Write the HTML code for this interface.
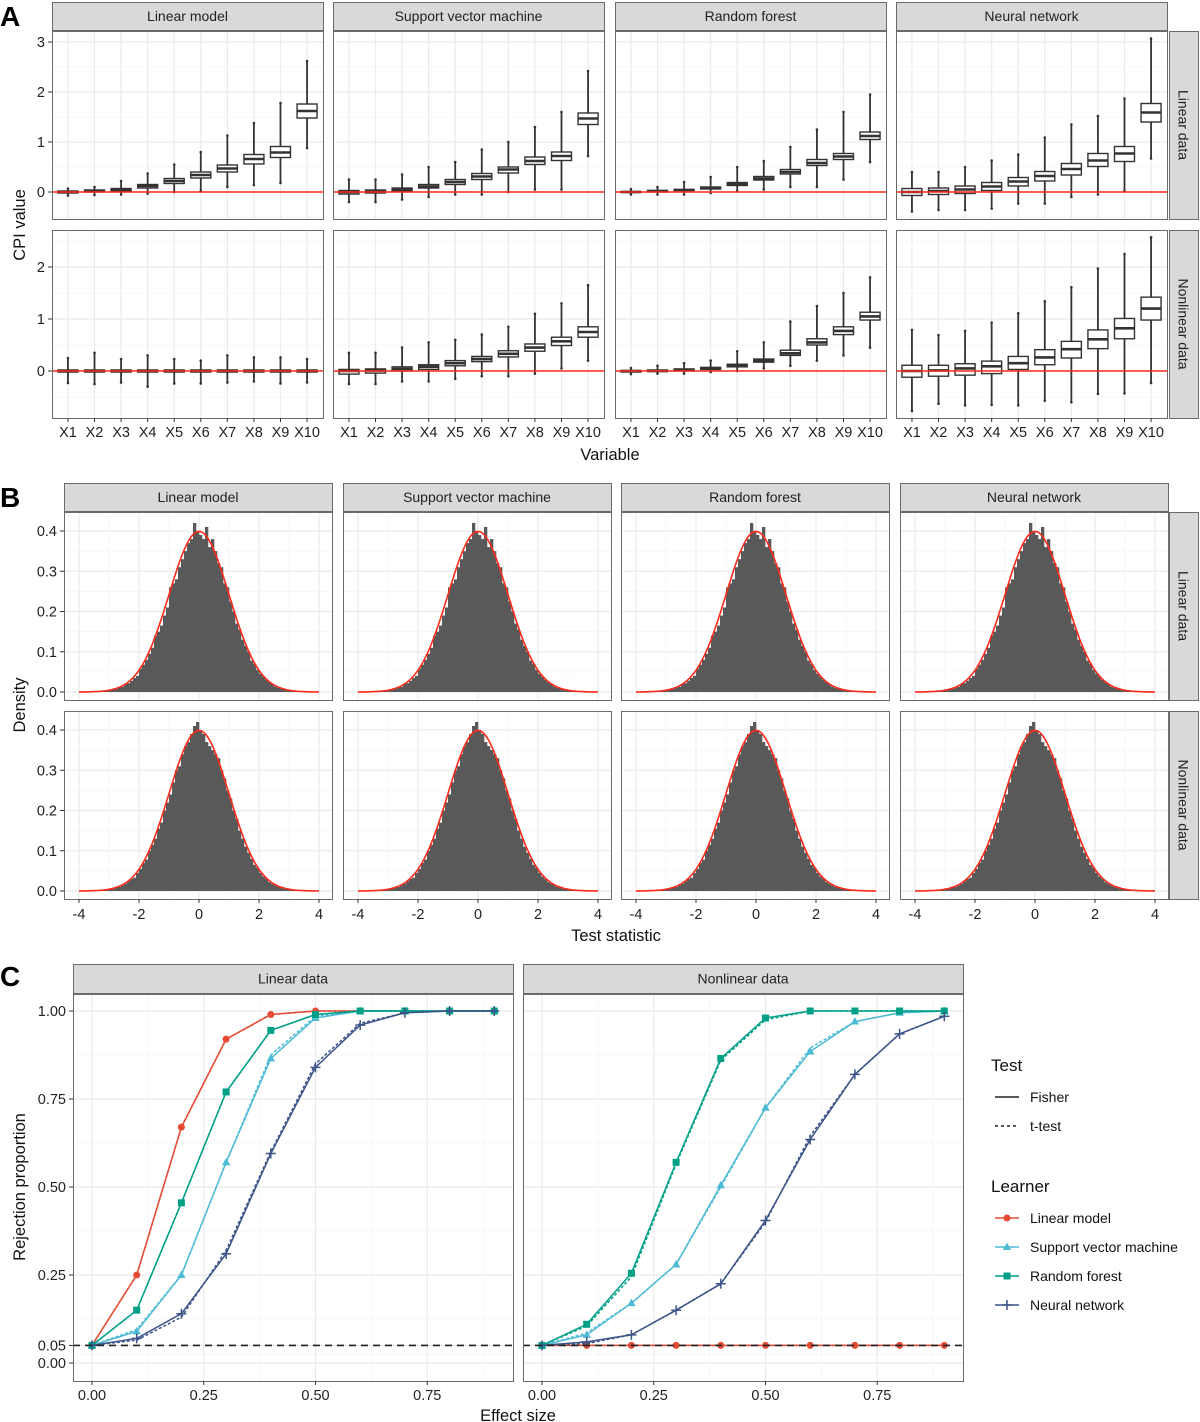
<!DOCTYPE html>
<html><head><meta charset="utf-8"><style>
html,body{margin:0;padding:0;background:#fff;}
svg{display:block;font-family:"Liberation Sans",Arial,sans-serif;}
</style></head><body>
<svg id="chart" width="1200" height="1422" viewBox="0 0 1200 1422" xmlns="http://www.w3.org/2000/svg">
<rect x="0" y="0" width="1200" height="1422" fill="#fff"/>
<text x="0" y="26" font-size="28" font-weight="bold">A</text>
<text x="0" y="507" font-size="28" font-weight="bold">B</text>
<text x="0" y="986" font-size="28" font-weight="bold">C</text>
<text transform="translate(25,225) rotate(-90)" text-anchor="middle" font-size="16.5" fill="#111">CPI value</text>
<text x="610" y="460" text-anchor="middle" font-size="16.5" fill="#111">Variable</text>
<text transform="translate(25,705) rotate(-90)" text-anchor="middle" font-size="16.5" fill="#111">Density</text>
<text x="616" y="941" text-anchor="middle" font-size="16.5" fill="#111">Test statistic</text>
<text transform="translate(25,1187) rotate(-90)" text-anchor="middle" font-size="16.5" fill="#111">Rejection proportion</text>
<text x="518" y="1421" text-anchor="middle" font-size="16.5" fill="#111">Effect size</text>
<g font-size="14" fill="#111">
<text x="991" y="1071" font-size="17">Test</text>
<line x1="995" y1="1097" x2="1019" y2="1097" stroke="#222" stroke-width="1.5"/>
<text x="1030" y="1102">Fisher</text>
<line x1="995" y1="1126" x2="1019" y2="1126" stroke="#222" stroke-width="1.5" stroke-dasharray="3,3"/>
<text x="1030" y="1131">t-test</text>
<text x="991" y="1192" font-size="17">Learner</text>
<text x="1030" y="1223">Linear model</text>
<text x="1030" y="1252">Support vector machine</text>
<text x="1030" y="1281">Random forest</text>
<text x="1030" y="1310">Neural network</text>
</g>
</svg>
<script>
// ---------- Panel A data: [lo, q1, median, q3, hi] per variable X1..X10 ----------
const variables = ["X1","X2","X3","X4","X5","X6","X7","X8","X9","X10"];
const lmLinear = [[-0.07,-0.02,0,0.02,0.07],[-0.06,0,0.02,0.04,0.1],[-0.05,0.02,0.05,0.07,0.22],[-0.03,0.08,0.12,0.15,0.37],[0,0.17,0.22,0.27,0.55],[0.02,0.28,0.34,0.4,0.8],[0.1,0.4,0.47,0.54,1.13],[0.14,0.56,0.66,0.75,1.38],[0.18,0.69,0.79,0.91,1.78],[0.88,1.48,1.62,1.76,2.62]];
const svmLinear = [[-0.2,-0.04,0,0.03,0.25],[-0.2,-0.02,0.01,0.04,0.25],[-0.15,0.02,0.05,0.08,0.35],[-0.1,0.08,0.11,0.15,0.5],[-0.05,0.15,0.2,0.25,0.6],[-0.05,0.25,0.31,0.37,0.85],[0,0.38,0.45,0.5,1.0],[0.05,0.55,0.62,0.7,1.3],[0.05,0.63,0.72,0.8,1.6],[0.72,1.35,1.47,1.58,2.42]];
const rfLinear = [[-0.05,-0.01,0,0.01,0.06],[-0.05,0,0.02,0.03,0.1],[-0.05,0.03,0.04,0.05,0.2],[-0.02,0.06,0.08,0.1,0.3],[0.02,0.13,0.16,0.19,0.5],[0.05,0.24,0.27,0.31,0.62],[0.1,0.36,0.4,0.45,0.9],[0.1,0.53,0.58,0.65,1.25],[0.25,0.65,0.71,0.77,1.6],[0.6,1.05,1.12,1.2,1.95]];
const nnLinear = [[-0.39,-0.07,0,0.07,0.4],[-0.36,-0.05,0.02,0.08,0.4],[-0.36,-0.03,0.05,0.12,0.5],[-0.33,0.03,0.11,0.19,0.63],[-0.23,0.12,0.21,0.29,0.75],[-0.23,0.22,0.32,0.41,1.09],[-0.1,0.34,0.46,0.57,1.35],[-0.05,0.51,0.63,0.77,1.52],[0.02,0.61,0.77,0.91,1.87],[0.67,1.4,1.59,1.77,3.07]];
const lmNonlinear = [[-0.23,-0.02,0,0.02,0.25],[-0.25,-0.02,0,0.02,0.35],[-0.22,-0.02,0,0.02,0.23],[-0.3,-0.02,0,0.02,0.3],[-0.24,-0.02,0,0.02,0.23],[-0.24,-0.02,0,0.02,0.2],[-0.22,-0.02,0,0.02,0.3],[-0.2,-0.02,0,0.02,0.26],[-0.24,-0.02,0,0.02,0.26],[-0.22,-0.02,0,0.02,0.23]];
const svmNonlinear = [[-0.25,-0.06,0,0.03,0.35],[-0.25,-0.04,0.01,0.04,0.35],[-0.2,0,0.04,0.08,0.45],[-0.2,0.03,0.08,0.12,0.55],[-0.15,0.1,0.15,0.2,0.6],[-0.1,0.18,0.23,0.28,0.7],[-0.1,0.27,0.33,0.39,0.85],[-0.05,0.38,0.45,0.52,1.1],[0.05,0.49,0.57,0.65,1.3],[0.2,0.65,0.75,0.85,1.65]];
const rfNonlinear = [[-0.06,-0.02,0,0.01,0.06],[-0.05,-0.01,0,0.02,0.1],[-0.05,0,0.02,0.04,0.15],[-0.02,0.03,0.05,0.07,0.2],[0,0.08,0.1,0.13,0.38],[0.05,0.17,0.2,0.23,0.55],[0.1,0.3,0.34,0.4,0.95],[0.2,0.5,0.55,0.62,1.25],[0.3,0.7,0.77,0.85,1.5],[0.45,0.98,1.05,1.13,1.8]];
const nnNonlinear = [[-0.77,-0.12,0,0.11,0.79],[-0.63,-0.1,0.01,0.11,0.69],[-0.66,-0.08,0.05,0.14,0.77],[-0.65,-0.05,0.09,0.19,0.93],[-0.66,0.03,0.15,0.28,1.11],[-0.57,0.12,0.26,0.41,1.34],[-0.6,0.25,0.42,0.57,1.61],[-0.44,0.43,0.61,0.79,1.97],[-0.43,0.62,0.82,1.01,2.25],[-0.23,0.98,1.2,1.42,2.57]];
const learners = ["Linear model","Support vector machine","Random forest","Neural network"];
const dataTypes = ["Linear data","Nonlinear data"];
const ticksARow1 = [0,1,2,3];
const ticksARow2 = [0,1,2];

// ---------- Panel B data ----------
const binStart = -3.5;
const binWidth = 0.1;
const histLinear = [0.001,0.001,0.002,0.002,0.003,0.005,0.006,0.008,0.011,0.013,0.02,0.022,0.028,0.035,0.04,0.058,0.068,0.08,0.095,0.11,0.14,0.15,0.165,0.19,0.21,0.26,0.27,0.28,0.31,0.33,0.35,0.37,0.38,0.42,0.4,0.39,0.38,0.41,0.36,0.38,0.35,0.32,0.31,0.27,0.26,0.225,0.2,0.17,0.155,0.13,0.115,0.1,0.078,0.07,0.055,0.045,0.038,0.03,0.024,0.02,0.013,0.01,0.008,0.006,0.004,0.003,0.002,0.002,0.001,0.001];
const histNonlinear = [0.001,0.001,0.001,0.002,0.003,0.004,0.006,0.009,0.01,0.014,0.018,0.024,0.03,0.033,0.045,0.055,0.07,0.078,0.1,0.115,0.13,0.155,0.17,0.2,0.22,0.24,0.27,0.3,0.31,0.34,0.36,0.37,0.39,0.41,0.42,0.4,0.39,0.37,0.36,0.35,0.34,0.33,0.3,0.28,0.25,0.23,0.2,0.18,0.15,0.13,0.11,0.095,0.08,0.065,0.058,0.045,0.036,0.03,0.022,0.018,0.014,0.01,0.008,0.005,0.004,0.003,0.002,0.001,0.001,0.001];
const ticksBX = [-4,-2,0,2,4];
const ticksBY = [0,0.1,0.2,0.3,0.4];

// ---------- Panel C data ----------
const effectSizes = [0,0.1,0.2,0.3,0.4,0.5,0.6,0.7,0.8,0.9];
const linLM = [0.05,0.25,0.67,0.92,0.99,1,1,1,1,1];
const linSVM = [0.05,0.09,0.25,0.57,0.865,0.98,1,1,1,1];
const linRF = [0.05,0.15,0.455,0.77,0.945,0.99,1,1,1,1];
const linNN = [0.05,0.07,0.14,0.31,0.595,0.84,0.96,0.995,1,1];
const linSVMt = [0.05,0.095,0.25,0.57,0.875,0.985,1,1,1,1];
const linNNt = [0.05,0.065,0.13,0.32,0.6,0.85,0.965,0.995,1,1];
const nonLM = [0.05,0.05,0.05,0.05,0.05,0.05,0.05,0.05,0.05,0.05];
const nonSVM = [0.05,0.08,0.17,0.28,0.505,0.725,0.885,0.97,0.995,1];
const nonRF = [0.05,0.11,0.255,0.57,0.865,0.98,1,1,1,1];
const nonNN = [0.05,0.06,0.08,0.15,0.225,0.405,0.635,0.82,0.935,0.985];
const nonSVMt = [0.05,0.085,0.17,0.28,0.5,0.725,0.895,0.97,0.995,1];
const nonRFt = [0.05,0.105,0.245,0.565,0.86,0.975,1,1,1,1];
const nonNNt = [0.05,0.055,0.08,0.15,0.225,0.4,0.645,0.82,0.935,0.985];
const ticksCX = [0,0.25,0.5,0.75];
const ticksCXLabels = ["0.00","0.25","0.50","0.75"];
const ticksCY = [0,0.05,0.25,0.5,0.75,1];
const ticksCYLabels = ["0.00","0.05","0.25","0.50","0.75","1.00"];

const NS = "http://www.w3.org/2000/svg";
const svg = document.getElementById('chart');
const TICK_FS = 14.5;
function mk(tag, attrs, name, parent){
  const el = document.createElementNS(NS, tag);
  for (const k in attrs) el.setAttribute(k, attrs[k]);
  
  
  (parent || svg).appendChild(el);
  return el;
}
function txt(x, y, s, name, opts){
  const el = mk('text', Object.assign({x:x, y:y, 'font-size':13, fill:'#222'}, opts || {}), name);
  el.textContent = s;
  return el;
}
const BORDER = '#6b6b6b', STRIP = '#D9D9D9', GMAJ = '#EBEBEB', GMIN = '#F5F5F5';

function stripTop(x, y, w, h, label, name){
  mk('rect', {x:x+0.5, y:y+0.5, width:w, height:h, fill:STRIP, stroke:BORDER, 'stroke-width':1}, name);
  txt(x + w/2, y + h/2 + 5, label, name + '-label', {'text-anchor':'middle', 'font-size':14});
}
function stripRight(x, y, w, h, label, name){
  mk('rect', {x:x+0.5, y:y+0.5, width:w, height:h, fill:STRIP, stroke:BORDER, 'stroke-width':1}, name);
  txt(0, 0, label, name + '-label', {'text-anchor':'middle', 'font-size':14, transform:'translate(' + (x + w/2 - 5) + ',' + (y + h/2) + ') rotate(90)'});
}
function panelFrame(x, y, w, h, name){
  mk('rect', {x:x+0.5, y:y+0.5, width:w, height:h, fill:'none', stroke:BORDER, 'stroke-width':1}, name);
}
function vn(i){ return variables[i].toLowerCase(); }

// ================= PANEL A =================
const colsA = [52, 333, 615, 896], wA = 271;
const rowsA = [
  {top:31, bot:219, y0:192, ppu:50, ticks:ticksARow1, sets:[lmLinear, svmLinear, rfLinear, nnLinear]},
  {top:230, bot:418, y0:371, ppu:52, ticks:ticksARow2, sets:[lmNonlinear, svmNonlinear, rfNonlinear, nnNonlinear]}
];
const stepA = wA / 10.2;
rowsA.forEach((row, ri) => {
  const yv = v => row.y0 - v * row.ppu;
  colsA.forEach((cx, ci) => {
    const g = mk('g', {}, 'boxplot-panel-' + ci + '-' + ri);
    for (let v = -1; v <= 3.5; v += 0.5) {
      const yy = yv(v);
      if (yy < row.top || yy > row.bot) continue;
      const major = Math.abs(v - Math.round(v)) < 1e-6;
      mk('line', {x1:cx, x2:cx+wA, y1:yy, y2:yy, stroke: major ? GMAJ : GMIN, 'stroke-width': major ? 1.2 : 0.8}, major ? 'grid-major-y' : 'grid-minor-y', g);
    }
    const xc = i => cx + stepA * 0.6 + i * stepA;
    variables.forEach((vname, i) => {
      mk('line', {x1:xc(i), x2:xc(i), y1:row.top, y2:row.bot, stroke:GMAJ, 'stroke-width':1.2}, 'grid-major-x', g);
    });
    const data = row.sets[ci];
    data.forEach((b, i) => {
      const x = xc(i), bw = 20;
      mk('line', {x1:x, x2:x, y1:yv(b[0]), y2:yv(b[4]), stroke:'#333', 'stroke-width':1.8}, 'whisker-' + vn(i), g);
      mk('circle', {cx:x, cy:yv(b[4]), r:1.3, fill:'#333'}, 'outlier-point', g);
      mk('circle', {cx:x, cy:yv(b[0]), r:1.3, fill:'#333'}, 'outlier-point', g);
      const yt = yv(b[3]), yb = yv(b[1]);
      mk('rect', {x:x - bw/2, y:yt, width:bw, height:Math.max(yb - yt, 1), fill:'#fff', stroke:'#333', 'stroke-width':1.4}, 'box-' + vn(i), g);
      mk('line', {x1:x - bw/2, x2:x + bw/2, y1:yv(b[2]), y2:yv(b[2]), stroke:'#333', 'stroke-width':2.6}, 'median-' + vn(i), g);
    });
    mk('line', {x1:cx, x2:cx+wA, y1:yv(0), y2:yv(0), stroke:'#FF2A1A', 'stroke-width':1.6}, 'zero-reference-line', g);
    panelFrame(cx, row.top, wA, row.bot - row.top, 'panel-border');
    if (ci === 0) {
      row.ticks.forEach(t => {
        mk('line', {x1:cx-4, x2:cx, y1:yv(t), y2:yv(t), stroke:'#333'}, 'y-tick');
        txt(cx - 7, yv(t) + 5, String(t), 'y-tick-label', {'text-anchor':'end', 'font-size':TICK_FS});
      });
    }
    if (ri === 1) {
      variables.forEach((vname, i) => {
        mk('line', {x1:xc(i), x2:xc(i), y1:row.bot, y2:row.bot+4, stroke:'#333'}, 'x-tick');
        txt(xc(i), row.bot + 19, vname, 'x-tick-label', {'text-anchor':'middle', 'font-size':TICK_FS});
      });
    }
  });
  stripRight(1169, row.top, 29, row.bot - row.top, dataTypes[ri], 'strip-right-a-' + ri);
});
colsA.forEach((cx, ci) => stripTop(cx, 2, wA, 28, learners[ci], 'strip-top-a-' + ci));

// ================= PANEL B =================
const colsB = [64, 343, 621, 900], wB = 268;
const rowsB = [{top:512, bot:700, y0:692, hist:histLinear}, {top:711, bot:899, y0:891, hist:histNonlinear}];
const ppuBY = 402.5, ppuBX = 30;
rowsB.forEach((row, ri) => {
  const yv = v => row.y0 - v * ppuBY;
  colsB.forEach((cx, ci) => {
    const xv = v => cx + 135 + v * ppuBX;
    const g = mk('g', {}, 'histogram-panel-' + ci + '-' + ri);
    for (let v = 0; v <= 0.45; v += 0.05) {
      const major = Math.round(v * 100) % 10 === 0;
      mk('line', {x1:cx, x2:cx+wB, y1:yv(v), y2:yv(v), stroke: major ? GMAJ : GMIN, 'stroke-width': major ? 1.2 : 0.8}, 'grid-y', g);
    }
    for (let v = -4; v <= 4; v += 1) {
      const major = v % 2 === 0;
      mk('line', {x1:xv(v), x2:xv(v), y1:row.top, y2:row.bot, stroke: major ? GMAJ : GMIN, 'stroke-width': major ? 1.2 : 0.8}, 'grid-x', g);
    }
    row.hist.forEach((d, i) => {
      const x0 = xv(binStart + i * binWidth), x1 = xv(binStart + (i + 1) * binWidth);
      mk('rect', {x:x0, y:yv(d), width:x1 - x0 + 0.3, height:row.y0 - yv(d), fill:'#595959'}, 'histogram-bar', g);
    });
    let p = '';
    for (let v = -4; v <= 4.0001; v += 0.05) {
      const dens = Math.exp(-v * v / 2) / Math.sqrt(2 * Math.PI);
      p += (p ? 'L' : 'M') + xv(v).toFixed(1) + ',' + yv(dens).toFixed(1);
    }
    mk('path', {d:p, fill:'none', stroke:'#FF2A1A', 'stroke-width':1.6}, 'normal-density-curve', g);
    panelFrame(cx, row.top, wB, row.bot - row.top, 'panel-border');
    if (ci === 0) {
      ticksBY.forEach(t => {
        mk('line', {x1:cx-4, x2:cx, y1:yv(t), y2:yv(t), stroke:'#333'}, 'y-tick');
        txt(cx - 7, yv(t) + 5, t.toFixed(1), 'y-tick-label', {'text-anchor':'end', 'font-size':TICK_FS});
      });
    }
    if (ri === 1) {
      ticksBX.forEach(t => {
        mk('line', {x1:xv(t), x2:xv(t), y1:row.bot, y2:row.bot+4, stroke:'#333'}, 'x-tick');
        txt(xv(t), row.bot + 20, String(t), 'x-tick-label', {'text-anchor':'middle', 'font-size':TICK_FS});
      });
    }
  });
  stripRight(1169, row.top, 29, row.bot - row.top, dataTypes[ri], 'strip-right-b-' + ri);
});
colsB.forEach((cx, ci) => stripTop(cx, 483, wB, 28, learners[ci], 'strip-top-b-' + ci));

// ================= PANEL C =================
const colsC = [73, 523], wC = 440, topC = 994, botC = 1381;
const yC = v => 1363 - v * 352;
const colorLM = '#E64B35', colorSVM = '#4DBBD5', colorRF = '#00A087', colorNN = '#3C5488';
const seriesC = [
  [{v:linLM, t:linLM, c:colorLM, m:'circle', n:'linear-model'}, {v:linSVM, t:linSVMt, c:colorSVM, m:'triangle', n:'svm'}, {v:linRF, t:linRF, c:colorRF, m:'square', n:'random-forest'}, {v:linNN, t:linNNt, c:colorNN, m:'plus', n:'neural-network'}],
  [{v:nonLM, t:nonLM, c:colorLM, m:'circle', n:'linear-model'}, {v:nonSVM, t:nonSVMt, c:colorSVM, m:'triangle', n:'svm'}, {v:nonRF, t:nonRFt, c:colorRF, m:'square', n:'random-forest'}, {v:nonNN, t:nonNNt, c:colorNN, m:'plus', n:'neural-network'}]
];
function marker(type, x, y, c, name, parent){
  if (type === 'circle') return mk('circle', {cx:x, cy:y, r:3.5, fill:c}, name, parent);
  if (type === 'square') return mk('rect', {x:x-3.5, y:y-3.5, width:7, height:7, fill:c}, name, parent);
  if (type === 'triangle') return mk('path', {d:'M' + x + ',' + (y-4.5) + 'L' + (x+4.2) + ',' + (y+3) + 'L' + (x-4.2) + ',' + (y+3) + 'Z', fill:c}, name, parent);
  return mk('path', {d:'M' + (x-5) + ',' + y + 'H' + (x+5) + 'M' + x + ',' + (y-5) + 'V' + (y+5), stroke:c, 'stroke-width':1.5}, name, parent);
}
colsC.forEach((cx, pi) => {
  const xv = v => cx + 19 + v * 447;
  const g = mk('g', {}, 'power-panel-' + pi);
  [0.025,0.125,0.375,0.625,0.875].forEach(v => mk('line', {x1:cx, x2:cx+wC, y1:yC(v), y2:yC(v), stroke:GMIN, 'stroke-width':0.8}, 'grid-minor-y', g));
  ticksCY.forEach(v => mk('line', {x1:cx, x2:cx+wC, y1:yC(v), y2:yC(v), stroke:GMAJ, 'stroke-width':1.2}, 'grid-major-y', g));
  [0.125,0.375,0.625,0.875].forEach(v => mk('line', {x1:xv(v), x2:xv(v), y1:topC, y2:botC, stroke:GMIN, 'stroke-width':0.8}, 'grid-minor-x', g));
  ticksCX.forEach(v => mk('line', {x1:xv(v), x2:xv(v), y1:topC, y2:botC, stroke:GMAJ, 'stroke-width':1.2}, 'grid-major-x', g));
  seriesC[pi].forEach(s => {
    const pts = arr => arr.map((v, i) => xv(effectSizes[i]).toFixed(1) + ',' + yC(v).toFixed(1)).join(' ');
    mk('polyline', {points:pts(s.t), fill:'none', stroke:s.c, 'stroke-width':1.5, 'stroke-dasharray':'3,2'}, 'line-ttest-' + s.n, g);
    mk('polyline', {points:pts(s.v), fill:'none', stroke:s.c, 'stroke-width':1.5}, 'line-fisher-' + s.n, g);
    s.v.forEach((v, i) => marker(s.m, xv(effectSizes[i]), yC(v), s.c, 'point-' + s.n, g));
  });
  mk('line', {x1:cx, x2:cx+wC, y1:yC(0.05), y2:yC(0.05), stroke:'#222', 'stroke-width':1.6, 'stroke-dasharray':'7,5'}, 'alpha-reference-line', g);
  panelFrame(cx, topC, wC, botC - topC, 'panel-border');
  stripTop(cx, 964, wC, 29, dataTypes[pi], 'strip-top-c-' + pi);
  if (pi === 0) {
    ticksCY.forEach((t, i) => {
      mk('line', {x1:cx-4, x2:cx, y1:yC(t), y2:yC(t), stroke:'#333'}, 'y-tick');
      txt(cx - 7, yC(t) + 5, ticksCYLabels[i], 'y-tick-label', {'text-anchor':'end', 'font-size':TICK_FS});
    });
  }
  ticksCX.forEach((t, i) => {
    mk('line', {x1:xv(t), x2:xv(t), y1:botC, y2:botC+4, stroke:'#333'}, 'x-tick');
    txt(xv(t), botC + 19, ticksCXLabels[i], 'x-tick-label', {'text-anchor':'middle', 'font-size':TICK_FS});
  });
});
const legendKeys = [[colorLM,'circle',1218],[colorSVM,'triangle',1247],[colorRF,'square',1276],[colorNN,'plus',1305]];
legendKeys.forEach(k => {
  mk('line', {x1:995, x2:1019, y1:k[2], y2:k[2], stroke:k[0], 'stroke-width':1.5}, 'legend-key-line');
  marker(k[1], 1007, k[2], k[0], 'legend-key-marker');
});
</script>
</body></html>
